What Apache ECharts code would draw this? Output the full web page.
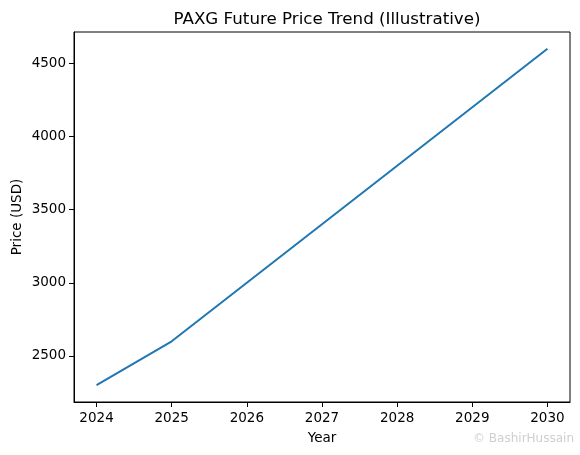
<!DOCTYPE html>
<html><head><meta charset="utf-8">
<script src="https://cdn.jsdelivr.net/npm/echarts@6/dist/echarts.min.js"></script>
<style>html,body{margin:0;padding:0;background:#fff}#c{width:580px;height:455px}</style>
</head><body><div id="c"></div>
<script>
const years = [2024, 2025, 2026, 2027, 2028, 2029, 2030];
const prices = [2300, 2600, 3000, 3400, 3800, 4200, 4600];
const yTicks = [2500, 3000, 3500, 4000, 4500];
const xTicks = [2024, 2025, 2026, 2027, 2028, 2029, 2030];

const font = 'DejaVu Sans';
const chart = echarts.init(document.getElementById('c'), null, {renderer: 'canvas'});
chart.setOption({
  animation: false,
  backgroundColor: '#fff',
  title: {
    text: 'PAXG Future Price Trend (Illustrative)',
    left: 322, top: 6, textAlign: 'center',
    textStyle: {fontFamily: font, fontSize: 16.7, fontWeight: 'normal', color: '#000'}
  },
  grid: {left: 74, right: 10, top: 32, bottom: 53, show: true, borderColor: '#000', borderWidth: 1,
         containLabel: false, outerBoundsMode: 'none'},
  xAxis: {
    type: 'value', min: 2023.7, max: 2030.3,
    name: 'Year', nameLocation: 'middle', nameGap: 29, nameMoveOverlap: false,
    nameTextStyle: {fontFamily: font, fontSize: 13.5, color: '#000'},
    axisLine: {show: true, lineStyle: {color: '#000', width: 1}},
    axisTick: {show: true, length: 5, lineStyle: {color: '#000'}, customValues: xTicks},
    axisLabel: {fontFamily: font, fontSize: 13.5, color: '#000', margin: 9, customValues: xTicks, formatter: v => String(v)},
    splitLine: {show: false}
  },
  yAxis: {
    type: 'value', min: 2185, max: 4715,
    name: 'Price (USD)', nameLocation: 'middle', nameGap: 50, nameMoveOverlap: false,
    nameTextStyle: {fontFamily: font, fontSize: 13.5, color: '#000'},
    axisLine: {show: true, lineStyle: {color: '#000', width: 1}},
    axisTick: {show: true, length: 5, lineStyle: {color: '#000'}, customValues: yTicks},
    axisLabel: {fontFamily: font, fontSize: 13.5, color: '#000', margin: 8, customValues: yTicks, formatter: v => String(v)},
    splitLine: {show: false}
  },
  series: [{
    type: 'line',
    data: years.map((y, i) => [y, prices[i]]),
    showSymbol: false,
    lineStyle: {color: '#1f77b4', width: 2},
    itemStyle: {color: '#1f77b4'}
  }],
  graphic: [{
    type: 'text', right: 6, bottom: 10,
    style: {text: '© BashirHussain', fontFamily: font, fontSize: 12, fill: '#cfcfcf'}
  }]
});
</script></body></html>
